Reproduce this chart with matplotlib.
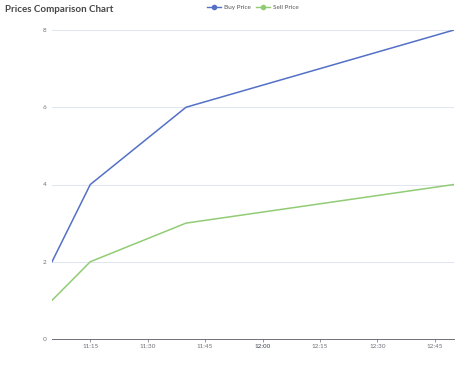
import matplotlib
matplotlib.use("Agg")
import matplotlib.pyplot as plt
from matplotlib.lines import Line2D
import datetime as dt

times = ["11:05", "11:15", "11:40", "12:50"]
buy_price = [2, 4, 6, 8]
sell_price = [1, 2, 3, 4]
x_ticks = ["11:15", "11:30", "11:45", "12:00", "12:15", "12:30", "12:45"]
y_ticks = [0, 2, 4, 6, 8]

def to_dt(s):
    h, m = map(int, s.split(":"))
    return dt.datetime(2024, 1, 1, h, m)

x = [to_dt(t) for t in times]
xt = [to_dt(t) for t in x_ticks]

plt.rcParams['font.family'] = ['Lato', 'DejaVu Sans']
W, H = 474, 366
fig = plt.figure(figsize=(W / 100, H / 100), dpi=100)
ax = fig.add_axes([52 / W, (H - 339) / H, (454 - 52) / W, (339 - 30) / H])

blue = "#5470c6"
green = "#91cc75"
ax.plot(x, buy_price, color=blue, lw=1.1, solid_joinstyle="miter")
ax.plot(x, sell_price, color=green, lw=1.1, solid_joinstyle="miter")

ax.set_xlim(x[0], x[-1])
ax.set_ylim(0, 8)
ax.set_yticks(y_ticks)
ax.set_yticklabels([str(v) for v in y_ticks])
ax.set_xticks(xt)
ax.set_xticklabels(x_ticks)
for lbl in ax.get_xticklabels():
    if lbl.get_text() == "12:00":
        lbl.set_fontweight("bold")
        lbl.set_color("#464646")

ax.grid(axis="y", color="#e0e6f1", lw=0.7)
ax.set_axisbelow(True)
for s in ["top", "right", "left"]:
    ax.spines[s].set_visible(False)
ax.spines["bottom"].set_color("#6e7079")
ax.spines["bottom"].set_linewidth(0.7)
ax.tick_params(axis="y", length=0, pad=4, labelsize=4.6, labelcolor="#6e7079")
ax.tick_params(axis="x", length=2.5, width=0.5, color="#6e7079", pad=1, labelsize=4.6, labelcolor="#6e7079")

fig.text(5 / W, 1 - 9 / H, "Prices Comparison Chart", fontsize=7, fontweight="bold",
         color="#464646", ha="left", va="center")

handles = [Line2D([0], [0], color=blue, lw=1.0, marker="o", markersize=3),
           Line2D([0], [0], color=green, lw=1.0, marker="o", markersize=3)]
fig.legend(handles, ["Buy Price", "Sell Price"], loc="center", bbox_to_anchor=(253 / W, 1 - 7 / H),
           ncol=2, frameon=False, fontsize=4.6, handlelength=2.2, handletextpad=0.4, columnspacing=0.9,
           labelcolor="#555555")

fig.savefig("out.png", dpi=100)
